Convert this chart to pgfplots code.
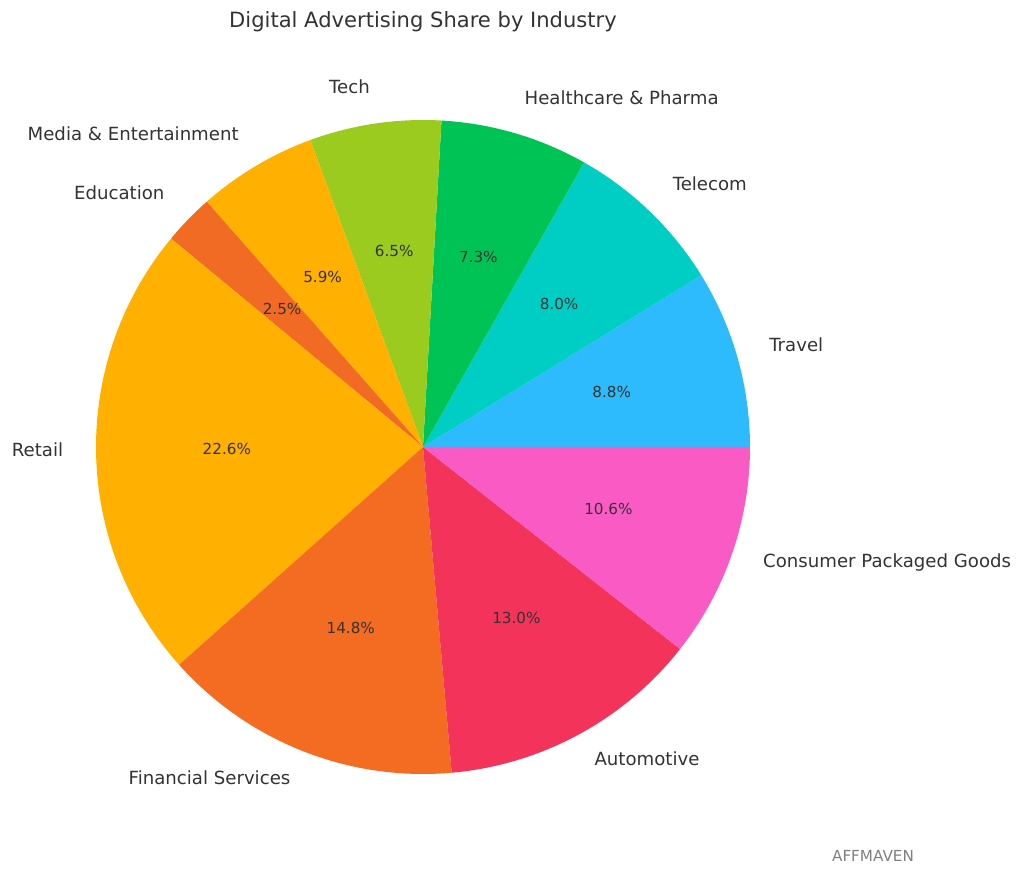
\documentclass[border=0pt]{standalone}
\usepackage{pgfplots}
\usepackage{pgfplotstable}
\pgfplotsset{compat=1.18}
\usepackage{fontspec}
\setmainfont{DejaVu Sans}

\definecolor{txt}{HTML}{333333}
\definecolor{cTravel}{HTML}{2DBBFD}
\definecolor{cTelecom}{HTML}{00CDC4}
\definecolor{cHealth}{HTML}{00C355}
\definecolor{cTech}{HTML}{9BCB1F}
\definecolor{cMedia}{HTML}{FFB000}
\definecolor{cEdu}{HTML}{F26B24}
\definecolor{cRetail}{HTML}{FFB000}
\definecolor{cFin}{HTML}{F36C22}
\definecolor{cAuto}{HTML}{F3335A}
\definecolor{cCPG}{HTML}{FA5AC4}

\newcommand\titlefont{\fontsize{15.8}{19}\selectfont}
\newcommand\lbl{\fontsize{13.6}{16}\selectfont}
\newcommand\pct{\fontsize{11.4}{14}\selectfont}

% share (%) per industry, counter-clockwise from 0 degrees
\pgfplotstableread[col sep=comma]{
label,value,col
Travel,8.8,cTravel
Telecom,8.0,cTelecom
Healthcare \& Pharma,7.3,cHealth
Tech,6.5,cTech
Media \& Entertainment,5.9,cMedia
Education,2.5,cEdu
Retail,22.6,cRetail
Financial Services,14.8,cFin
Automotive,13.0,cAuto
Consumer Packaged Goods,10.6,cCPG
}\piedata

\tikzset{mpl/.style={inner sep=0pt, text=txt, text height=0.76em, text depth=0.21em}}

\begin{document}
\begin{tikzpicture}
\begin{axis}[
    hide axis,
    scale only axis,
    width=768pt, height=658.5pt,
    xmin=0, xmax=1024, ymin=0, ymax=878,
    clip=false,
]
\path (axis cs:0,0) (axis cs:1024,878);

\pgfplotstablegetrowsof{\piedata}
\pgfmathtruncatemacro\nrows{\pgfplotsretval-1}
\gdef\angA{0}
\pgfplotsforeachungrouped \i in {0,...,\nrows}{%
  \pgfplotstablegetelem{\i}{value}\of\piedata \let\val\pgfplotsretval
  \pgfplotstablegetelem{\i}{col}\of\piedata \let\col\pgfplotsretval
  \pgfplotstablegetelem{\i}{label}\of\piedata \let\lab\pgfplotsretval
  \pgfmathsetmacro\angB{\angA+3.6*\val}
  \pgfmathsetmacro\angM{(\angA+\angB)/2}
  \pgfmathsetmacro\xa{423+327*cos(\angA)}
  \pgfmathsetmacro\ya{431+327*sin(\angA)}
  \pgfmathsetmacro\xl{423+1.1*327*cos(\angM)}
  \pgfmathsetmacro\yl{432+1.1*327*sin(\angM)}
  \pgfmathsetmacro\xp{423+0.6*327*cos(\angM)}
  \pgfmathsetmacro\yp{431+0.6*327*sin(\angM)}
  \pgfmathparse{cos(\angM)>0}
  \ifdim\pgfmathresult pt>0.5pt \def\anc{west}\else\def\anc{east}\fi
  \edef\wedge{%
    \noexpand\fill[\col] (axis cs:423,431) -- (axis cs:\xa,\ya)
      arc[start angle=\angA, end angle=\angB, radius=245.25pt] -- cycle;
    \noexpand\node[mpl, anchor=\anc, font=\noexpand\lbl]
      at (axis cs:\xl,\yl) {\lab};
    \noexpand\node[mpl, font=\noexpand\pct]
      at (axis cs:\xp,\yp)
      {\noexpand\pgfmathprintnumber[fixed,fixed zerofill,precision=1,assume math mode=true]{\val}\noexpand\%};
  }\wedge
  \global\let\angA\angB
}

\node[mpl, font=\titlefont] at (axis cs:423,854) {Digital Advertising Share by Industry};
\node[mpl, text=black!50, font=\pct] at (axis cs:873,20) {AFFMAVEN};
\end{axis}
\end{tikzpicture}
\end{document}
